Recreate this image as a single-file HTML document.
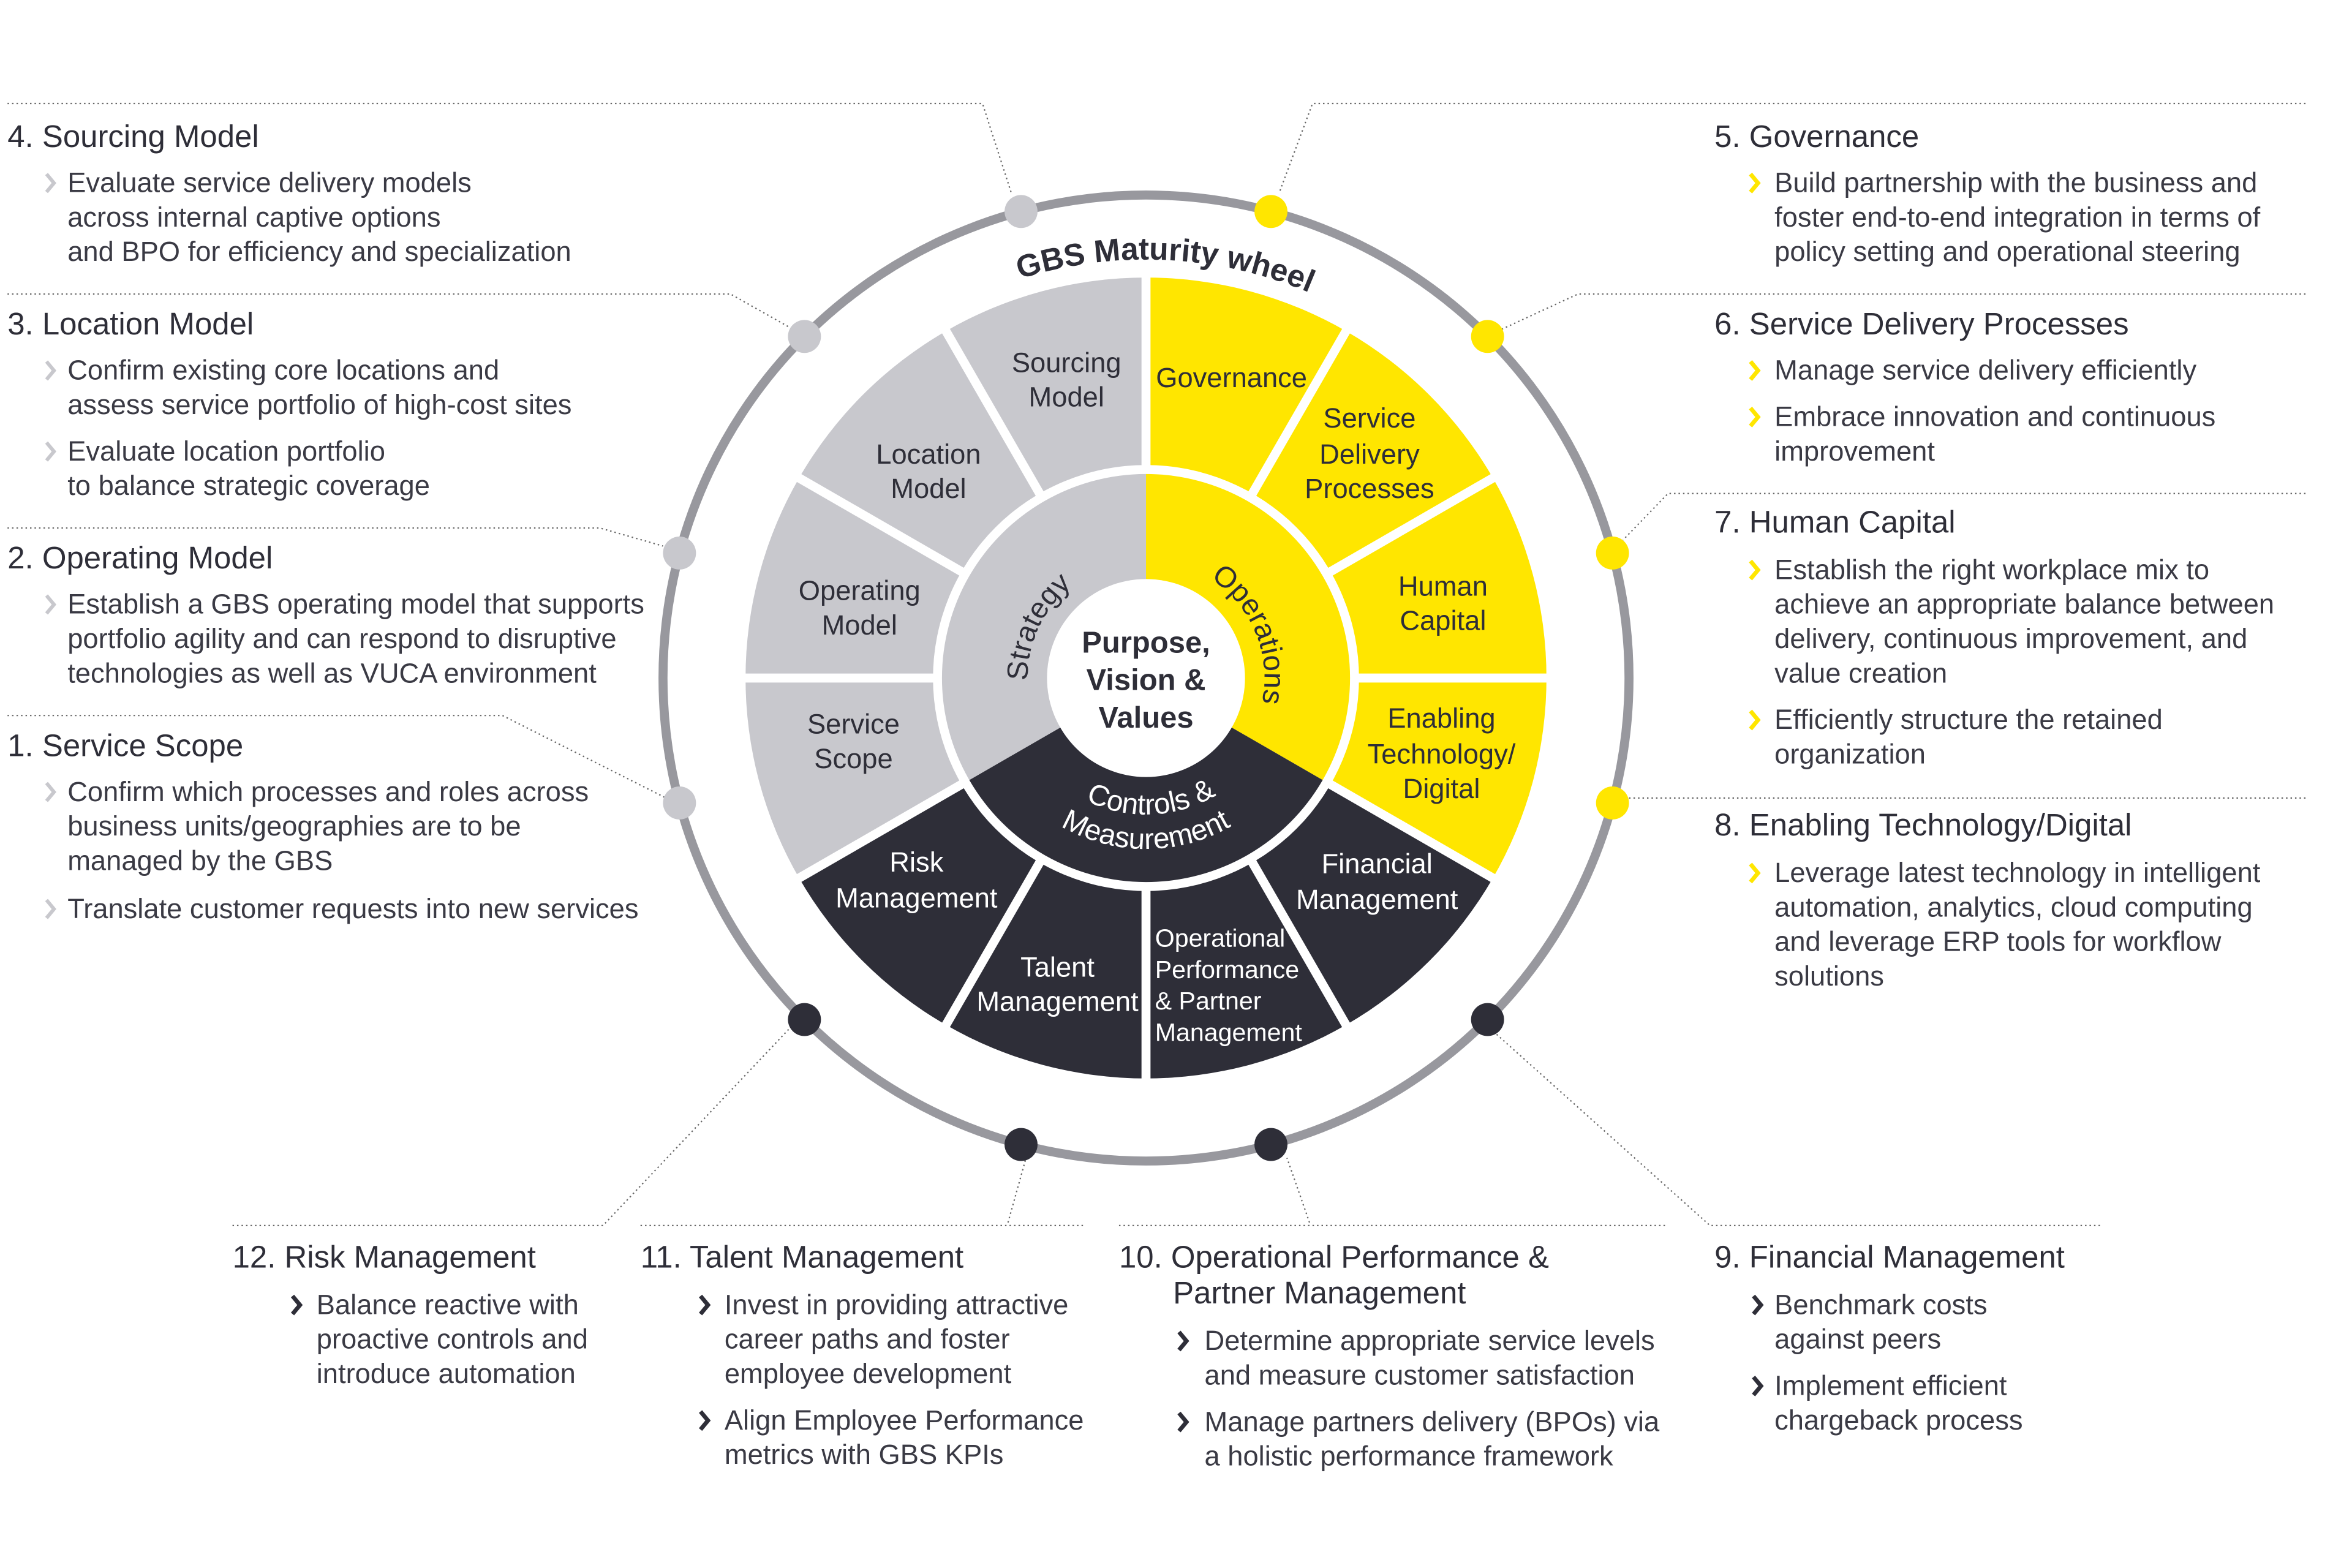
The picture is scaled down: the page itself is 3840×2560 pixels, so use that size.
<!DOCTYPE html>
<html><head><meta charset="utf-8">
<style>
html,body{margin:0;padding:0;background:#fff;}
svg{display:block;}
text{font-family:"Liberation Sans",sans-serif;}
.h{font-size:20.8px;fill:#2e2e38;}
.b{font-size:18.5px;fill:#3a3a44;}
.s{font-size:18.5px;text-anchor:middle;fill:#2e2e38;}
.w{fill:#fff;}
.dl{stroke:#666;stroke-width:0.9;stroke-dasharray:1 2;fill:none;}
.cg{stroke:#c8c8cd;stroke-width:2.4;fill:none;}
.cy{stroke:#ffe600;stroke-width:2.8;fill:none;}
.cd{stroke:#2e2e38;stroke-width:2.8;fill:none;}
</style></head>
<body>
<svg width="3840" height="2560" viewBox="0 0 1568 1045.3" xmlns="http://www.w3.org/2000/svg">
<defs>
<path id="pTitle" d="M485,452 A279,279 0 0 1 1043,452"/>
<path id="pStrat" d="M695.6,491.5 A79,79 0 0 1 750.3,374.2"/>
<path id="pOps" d="M777.7,374.2 A79,79 0 0 1 828.7,497.3"/>
<path id="pCtl" d="M685.2,497.5 A91,91 0 0 0 842.8,497.5"/>
<path id="pMeas" d="M665.3,509 A114,114 0 0 0 862.7,509"/>
</defs>

<polyline class="dl" points="5,69 655,69 674,128"/>
<polyline class="dl" points="5,196 487,196 526,218"/>
<polyline class="dl" points="5,352 400,352 442,364"/>
<polyline class="dl" points="5,477 335,477 444,532"/>
<polyline class="dl" points="1537,69 875,69 853,128"/>
<polyline class="dl" points="1537,196 1052,196 1000,220"/>
<polyline class="dl" points="1537,329 1112,329 1082,360"/>
<polyline class="dl" points="1537,532 1085,532"/>
<polyline class="dl" points="155,817 402,817 526,686"/>
<polyline class="dl" points="427,817 722,817"/>
<polyline class="dl" points="672,815 684,772"/>
<polyline class="dl" points="746,817 1110,817"/>
<polyline class="dl" points="873,815 858,772"/>
<polyline class="dl" points="1400,817 1140,817 996,688"/>

<circle cx="764" cy="452" r="322" fill="none" stroke="#98989e" stroke-width="6"/>

<path d="M764,452 L764,185 A267,267 0 0 1 995.2,585.5 Z" fill="#ffe600"/>
<path d="M764,452 L995.2,585.5 A267,267 0 0 1 532.8,585.5 Z" fill="#2e2e38"/>
<path d="M764,452 L532.8,585.5 A267,267 0 0 1 764,185 Z" fill="#c8c8cd"/>
<g stroke="#fff" stroke-width="6">
<line x1="764" y1="452" x2="764" y2="180"/>
<line x1="764" y1="452" x2="901" y2="214.4"/>
<line x1="764" y1="452" x2="1001.6" y2="315"/>
<line x1="764" y1="452" x2="1039" y2="452"/>
<line x1="764" y1="452" x2="1001.6" y2="589"/>
<line x1="764" y1="452" x2="901" y2="689.6"/>
<line x1="764" y1="452" x2="764" y2="724"/>
<line x1="764" y1="452" x2="627" y2="689.6"/>
<line x1="764" y1="452" x2="526.4" y2="589"/>
<line x1="764" y1="452" x2="489" y2="452"/>
<line x1="764" y1="452" x2="526.4" y2="315"/>
<line x1="764" y1="452" x2="627" y2="214.4"/>
</g>
<circle cx="764" cy="452" r="142" fill="#fff"/>
<path d="M764,452 L764,316 A136,136 0 0 1 881.8,520 Z" fill="#ffe600"/>
<path d="M764,452 L881.8,520 A136,136 0 0 1 646.2,520 Z" fill="#2e2e38"/>
<path d="M764,452 L646.2,520 A136,136 0 0 1 764,316 Z" fill="#c8c8cd"/>
<circle cx="764" cy="452" r="66" fill="#fff"/>

<g>
<circle cx="847.3" cy="141" r="11" fill="#ffe600"/>
<circle cx="991.7" cy="224.3" r="11" fill="#ffe600"/>
<circle cx="1075" cy="368.7" r="11" fill="#ffe600"/>
<circle cx="1075" cy="535.3" r="11" fill="#ffe600"/>
<circle cx="680.7" cy="141" r="11" fill="#c8c8cd"/>
<circle cx="536.3" cy="224.3" r="11" fill="#c8c8cd"/>
<circle cx="453" cy="368.7" r="11" fill="#c8c8cd"/>
<circle cx="453" cy="535.3" r="11" fill="#c8c8cd"/>
<circle cx="991.7" cy="679.7" r="11" fill="#2e2e38"/>
<circle cx="847.3" cy="763" r="11" fill="#2e2e38"/>
<circle cx="536.3" cy="679.7" r="11" fill="#2e2e38"/>
<circle cx="680.7" cy="763" r="11" fill="#2e2e38"/>
</g>

<text font-size="21" font-weight="bold" fill="#2e2e38"><textPath href="#pTitle" startOffset="51.5%" text-anchor="middle">GBS Maturity wheel</textPath></text>
<text font-size="19.5" fill="#2e2e38"><textPath href="#pStrat" startOffset="50%" text-anchor="middle">Strategy</textPath></text>
<text font-size="19.5" fill="#2e2e38"><textPath href="#pOps" startOffset="50%" text-anchor="middle">Operations</textPath></text>
<text font-size="19.5" fill="#fff"><textPath href="#pCtl" startOffset="52%" text-anchor="middle">Controls &amp;</textPath></text>
<text font-size="19.5" fill="#fff"><textPath href="#pMeas" startOffset="50%" text-anchor="middle">Measurement</textPath></text>

<g font-size="20" font-weight="bold" fill="#2e2e38" text-anchor="middle">
<text x="764" y="435">Purpose,</text>
<text x="764" y="460">Vision &amp;</text>
<text x="764" y="485">Values</text>
</g>

<text class="s" x="711" y="248">Sourcing</text><text class="s" x="711" y="271">Model</text>
<text class="s" x="619" y="309">Location</text><text class="s" x="619" y="332">Model</text>
<text class="s" x="573" y="400">Operating</text><text class="s" x="573" y="423">Model</text>
<text class="s" x="569" y="489">Service</text><text class="s" x="569" y="512">Scope</text>
<text class="s w" x="611" y="581">Risk</text><text class="s w" x="611" y="605">Management</text>
<text class="s w" x="705" y="651">Talent</text><text class="s w" x="705" y="674">Management</text>
<g font-size="16.8" fill="#fff">
<text x="770" y="631">Operational</text><text x="770" y="652">Performance</text>
<text x="770" y="673">&amp; Partner</text><text x="770" y="694">Management</text>
</g>
<text class="s w" x="918" y="582">Financial</text><text class="s w" x="918" y="606">Management</text>
<text class="s" x="821" y="258">Governance</text>
<text class="s" x="913" y="285">Service</text><text class="s" x="913" y="309">Delivery</text><text class="s" x="913" y="332">Processes</text>
<text class="s" x="962" y="397">Human</text><text class="s" x="962" y="420">Capital</text>
<text class="s" x="961" y="485">Enabling</text><text class="s" x="961" y="509">Technology/</text><text class="s" x="961" y="532">Digital</text>

<text class="h" x="5" y="98">4. Sourcing Model</text>
<path class="cg" d="M31,116 L36,122 L31,128"/>
<text class="b" x="45" y="128">Evaluate service delivery models</text>
<text class="b" x="45" y="151">across internal captive options</text>
<text class="b" x="45" y="174">and BPO for efficiency and specialization</text>

<text class="h" x="5" y="223">3. Location Model</text>
<path class="cg" d="M31,241 L36,247 L31,253"/>
<text class="b" x="45" y="253">Confirm existing core locations and</text>
<text class="b" x="45" y="276">assess service portfolio of high-cost sites</text>
<path class="cg" d="M31,295 L36,301 L31,307"/>
<text class="b" x="45" y="307">Evaluate location portfolio</text>
<text class="b" x="45" y="330">to balance strategic coverage</text>

<text class="h" x="5" y="379">2. Operating Model</text>
<path class="cg" d="M31,397 L36,403 L31,409"/>
<text class="b" x="45" y="409">Establish a GBS operating model that supports</text>
<text class="b" x="45" y="432">portfolio agility and can respond to disruptive</text>
<text class="b" x="45" y="455">technologies as well as VUCA environment</text>

<text class="h" x="5" y="504">1. Service Scope</text>
<path class="cg" d="M31,522 L36,528 L31,534"/>
<text class="b" x="45" y="534">Confirm which processes and roles across</text>
<text class="b" x="45" y="557">business units/geographies are to be</text>
<text class="b" x="45" y="580">managed by the GBS</text>
<path class="cg" d="M31,600 L36,606 L31,612"/>
<text class="b" x="45" y="612">Translate customer requests into new services</text>

<text class="h" x="1143" y="98">5. Governance</text>
<path class="cy" d="M1167,116 L1172,122 L1167,128"/>
<text class="b" x="1183" y="128">Build partnership with the business and</text>
<text class="b" x="1183" y="151">foster end-to-end integration in terms of</text>
<text class="b" x="1183" y="174">policy setting and operational steering</text>

<text class="h" x="1143" y="223">6. Service Delivery Processes</text>
<path class="cy" d="M1167,241 L1172,247 L1167,253"/>
<text class="b" x="1183" y="253">Manage service delivery efficiently</text>
<path class="cy" d="M1167,272 L1172,278 L1167,284"/>
<text class="b" x="1183" y="284">Embrace innovation and continuous</text>
<text class="b" x="1183" y="307">improvement</text>

<text class="h" x="1143" y="355">7. Human Capital</text>
<path class="cy" d="M1167,374 L1172,380 L1167,386"/>
<text class="b" x="1183" y="386">Establish the right workplace mix to</text>
<text class="b" x="1183" y="409">achieve an appropriate balance between</text>
<text class="b" x="1183" y="432">delivery, continuous improvement, and</text>
<text class="b" x="1183" y="455">value creation</text>
<path class="cy" d="M1167,474 L1172,480 L1167,486"/>
<text class="b" x="1183" y="486">Efficiently structure the retained</text>
<text class="b" x="1183" y="509">organization</text>

<text class="h" x="1143" y="557">8. Enabling Technology/Digital</text>
<path class="cy" d="M1167,576 L1172,582 L1167,588"/>
<text class="b" x="1183" y="588">Leverage latest technology in intelligent</text>
<text class="b" x="1183" y="611">automation, analytics, cloud computing</text>
<text class="b" x="1183" y="634">and leverage ERP tools for workflow</text>
<text class="b" x="1183" y="657">solutions</text>

<text class="h" x="155" y="845">12. Risk Management</text>
<path class="cd" d="M195,864 L200,870 L195,876"/>
<text class="b" x="211" y="876">Balance reactive with</text>
<text class="b" x="211" y="899">proactive controls and</text>
<text class="b" x="211" y="922">introduce automation</text>

<text class="h" x="427" y="845">11. Talent Management</text>
<path class="cd" d="M467,864 L472,870 L467,876"/>
<text class="b" x="483" y="876">Invest in providing attractive</text>
<text class="b" x="483" y="899">career paths and foster</text>
<text class="b" x="483" y="922">employee development</text>
<path class="cd" d="M467,941 L472,947 L467,953"/>
<text class="b" x="483" y="953">Align Employee Performance</text>
<text class="b" x="483" y="976">metrics with GBS KPIs</text>

<text class="h" x="746" y="845">10. Operational Performance &amp;</text>
<text class="h" x="782" y="869">Partner Management</text>
<path class="cd" d="M786,888 L791,894 L786,900"/>
<text class="b" x="803" y="900">Determine appropriate service levels</text>
<text class="b" x="803" y="923">and measure customer satisfaction</text>
<path class="cd" d="M786,942 L791,948 L786,954"/>
<text class="b" x="803" y="954">Manage partners delivery (BPOs) via</text>
<text class="b" x="803" y="977">a holistic performance framework</text>

<text class="h" x="1143" y="845">9. Financial Management</text>
<path class="cd" d="M1169,864 L1174,870 L1169,876"/>
<text class="b" x="1183" y="876">Benchmark costs</text>
<text class="b" x="1183" y="899">against peers</text>
<path class="cd" d="M1169,918 L1174,924 L1169,930"/>
<text class="b" x="1183" y="930">Implement efficient</text>
<text class="b" x="1183" y="953">chargeback process</text>
</svg>
</body></html>
